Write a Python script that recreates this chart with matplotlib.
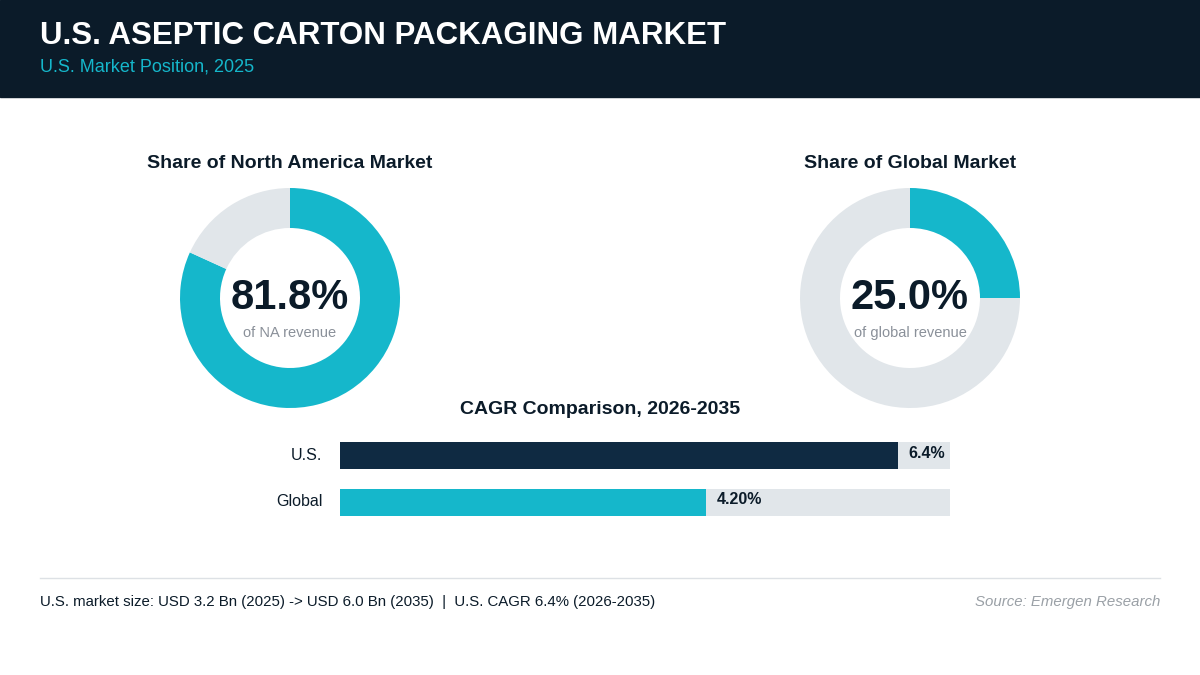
import matplotlib
matplotlib.use("Agg")
import matplotlib.pyplot as plt
from matplotlib.patches import Rectangle

plt.rcParams['font.family'] = ['Liberation Sans', 'DejaVu Sans']

title = "U.S. ASEPTIC CARTON PACKAGING MARKET"
subtitle = "U.S. Market Position, 2025"
donut_titles = ["Share of North America Market", "Share of Global Market"]
donut_values = [81.8, 25.0]
donut_labels = ["81.8%", "25.0%"]
donut_sub = ["of NA revenue", "of global revenue"]
bar_cats = ["U.S.", "Global"]
bar_vals = [6.4, 4.20]
bar_labels = ["6.4%", "4.20%"]
bar_max = 7.0
footer = "U.S. market size: USD 3.2 Bn (2025) -> USD 6.0 Bn (2035)  |  U.S. CAGR 6.4% (2026-2035)"
source = "Source: Emergen Research"

W, H = 1200, 675
TEAL = "#15b7cb"; GRAY = "#e1e6ea"; NAVY = "#0f2a42"; DARK = "#0b1b29"
fig = plt.figure(figsize=(12, 6.75), dpi=100)
fig.patch.set_facecolor("white")

def px(x, y):
    return x / W, 1 - y / H

fig.patches.append(Rectangle((0, 1 - 97 / H), 1, 97 / H, transform=fig.transFigure, color=DARK, zorder=0))
fig.text(*px(40, 36), title, color="white", fontsize=22.5, fontweight="bold", va="center")
fig.text(*px(40, 67), subtitle, color=TEAL, fontsize=13, va="center")

for cx, t, v, lab, sub in zip([290, 910], donut_titles, donut_values, donut_labels, donut_sub):
    ax = fig.add_axes([(cx - 110) / W, 1 - 408 / H, 220 / W, 220 / H])
    ax.pie([v, 100 - v], colors=[TEAL, GRAY], startangle=90, counterclock=False,
           wedgeprops=dict(width=40 / 110, linewidth=0))
    ax.set_xlim(-1, 1); ax.set_ylim(-1, 1)
    ax.set_aspect("equal")
    ax.text(0, 0.0, lab, ha="center", va="center", fontsize=30, fontweight="bold", color=DARK)
    ax.text(0, -0.32, sub, ha="center", va="center", fontsize=10.5, color="#8a9099")
    fig.text(*px(cx, 163), t, ha="center", va="center", fontsize=14, fontweight="bold", color=DARK)

fig.text(*px(600, 410), "CAGR Comparison, 2026-2035", ha="center", va="center", fontsize=14, fontweight="bold", color=DARK)
bax = fig.add_axes([340 / W, 1 - 528 / H, 610 / W, 100 / H])
ys = [0.73, 0.26]
bh = 0.27
for y, c, v, lab, col in zip(ys, bar_cats, bar_vals, bar_labels, [NAVY, TEAL]):
    bax.barh(y, bar_max, height=bh, color=GRAY, left=0)
    bax.barh(y, v, height=bh, color=col)
    bax.text(v + 0.12, y + 0.02, lab, va="center", ha="left", fontsize=11.5, fontweight="bold", color=DARK)
    bax.text(-0.2, y, c, va="center", ha="right", fontsize=11.5, color=DARK)
bax.set_xlim(0, bar_max); bax.set_ylim(0, 1)
bax.axis("off")

fig.add_artist(plt.Line2D([40 / W, 1160 / W], [1 - 578 / H] * 2, color="#dde1e5", lw=1))
fig.text(*px(40, 602), footer, fontsize=10.8, va="center", color=DARK)
fig.text(*px(1160, 602), source, fontsize=10.8, va="center", ha="right", color="#9aa0a6", style="italic")

fig.savefig("out.png", dpi=100, facecolor="white")
